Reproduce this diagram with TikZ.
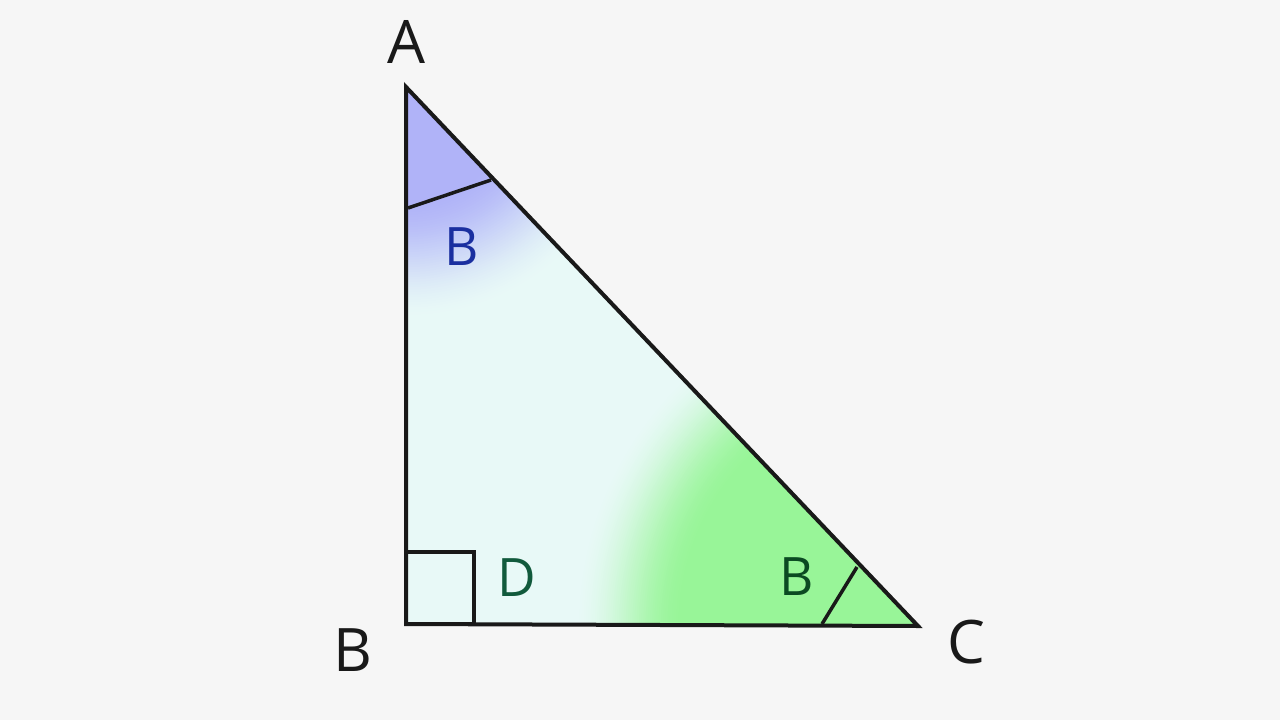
\documentclass[tikz,border=0pt]{standalone}
\usepackage{fontspec}
\setmainfont{Open Sans}

\definecolor{bgcol}{HTML}{F6F6F6}
\definecolor{basecol}{HTML}{E8F9F7}
\definecolor{bluecol}{HTML}{B0B3F8}
\definecolor{greencol}{HTML}{98F598}
\definecolor{bluetxt}{HTML}{1A2FA0}
\definecolor{dtxt}{HTML}{115A3C}
\definecolor{greentxt}{HTML}{0B4A22}

\tikzstyle{side}=[line width=4pt,black!90,line join=miter]
\tikzstyle{anglemark}=[line width=3.5pt,black!90]
\tikzstyle{corner}=[font=\fontsize{60}{62}\selectfont,text=black!90]
\tikzstyle{inner}=[font=\fontsize{53}{55}\selectfont]

\begin{document}
\begin{tikzpicture}[x=1pt,y=-1pt]
    \fill[bgcol] (0,0) rectangle (1280,720);
    \useasboundingbox (0,0) rectangle (1280,720);

    \coordinate (A) at (406,87);
    \coordinate (B) at (406,624);
    \coordinate (C) at (918,626);

    % colour fill, rings from the outside in
    \begin{scope}
        \clip (A) -- (B) -- (C) -- cycle;
        \fill[basecol] (A) -- (B) -- (C) -- cycle;
        \foreach \i in {0,...,50} {
            \pgfmathsetmacro\t{\i/50}
            \pgfmathsetmacro\p{100*(3*\t*\t-2*\t*\t*\t)}
            \fill[bluecol!\p!basecol] (A) circle ({235-2.5*\i});
            \fill[greencol!\p!basecol] (C) circle ({345-2.2*\i});
        }
    \end{scope}

    % angle marks
    \coordinate (a1) at (408,208);
    \coordinate (a2) at (491,180);
    \coordinate (c1) at (822,624);
    \coordinate (c2) at (857,567);
    \draw[anglemark] (a1) -- (a2);
    \draw[anglemark] (c1) -- (c2);
    \draw[anglemark] (406,552) rectangle (474,624);

    \draw[side] (A) -- (B) -- (C) -- cycle;

    \node (la)[corner] at (406,42) {A};
    \node (lb)[corner] at (353,650) {B};
    \node (lc)[corner] at (966,642) {C};

    \node (ba)[inner,text=bluetxt] at (462,247) {B};
    \node (dd)[inner,text=dtxt] at (517,578) {D};
    \node (bc)[inner,text=greentxt] at (797,577) {B};
\end{tikzpicture}
\end{document}
